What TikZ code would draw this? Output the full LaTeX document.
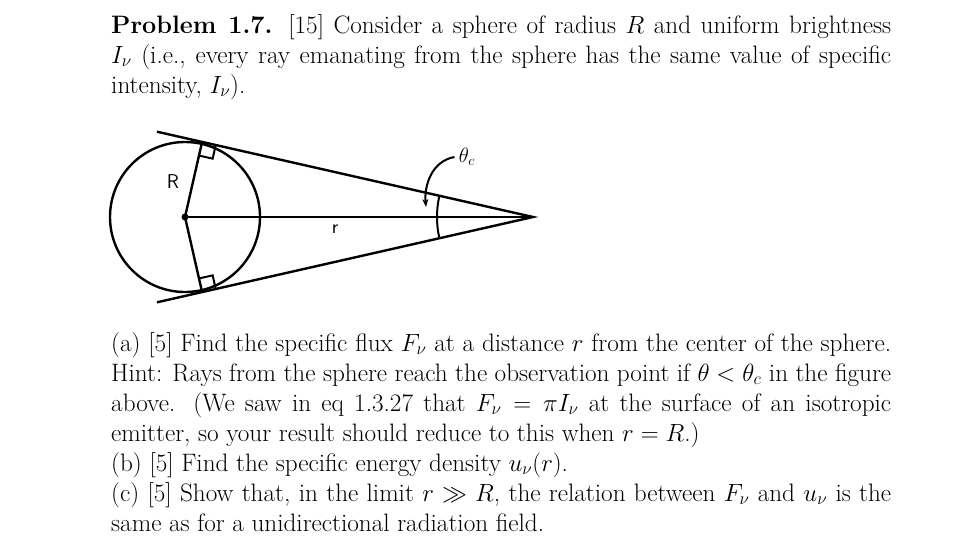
\documentclass[tikz,border=0pt]{standalone}
\usetikzlibrary{calc,arrows.meta}
\begin{document}
\begin{tikzpicture}[x=1pt,y=-1pt,line width=2.4pt,
  txt/.style={anchor=north west,inner sep=0pt,text width=780pt,align=justify,font=\fontsize{25.2}{30}\selectfont}]
\useasboundingbox (0,0) rectangle (976,557);
\node[txt] (top) at (110,13) {\textbf{Problem 1.7.} [15] Consider a sphere of radius $R$ and uniform brightness $I_\nu$ (i.e., every ray emanating from the sphere has the same value of specific intensity, $I_\nu$).};
\node[txt] (bot) at (110,331) {(a) [5] Find the specific flux $F_\nu$ at a distance $r$ from the center of the sphere. Hint: Rays from the sphere reach the observation point if $\theta<\theta_c$ in the figure above. (We saw in eq 1.3.27 that $F_\nu=\pi I_\nu$ at the surface of an isotropic emitter, so your result should reduce to this when $r=R$.)\\
(b) [5] Find the specific energy density $u_\nu(r)$.\\
(c) [5] Show that, in the limit $r\gg R$, the relation between $F_\nu$ and $u_\nu$ is the same as for a unidirectional radiation field.};
\coordinate (C) at (185,217);
\coordinate (A) at (533,217);
\coordinate (T1) at (202.1,141.9);
\coordinate (T2) at (202.1,292.1);
\coordinate (L1) at (157,131.7);
\coordinate (L2) at (157,302.3);
\draw (C) circle[radius=75pt];
\fill (C) circle[radius=3.5pt];
\draw (L1) -- (A) -- (L2);
\draw (C) -- (A);
\draw (C) -- (T1);
\draw (C) -- (T2);
\foreach \t in {T1,T2}{
  \coordinate (p) at ($(\t)!14pt!(C)$);
  \coordinate (q) at ($(\t)!14pt!(A)$);
  \draw[line width=2pt] (p) -- ($(p)+(q)-(\t)$) -- (q);
}
\draw[line width=2pt] ($(A)+(192:96)$) arc[start angle=192,end angle=168,radius=96];
\node[font=\sffamily\fontsize{20}{20}\selectfont] (R) at (173,182) {R};
\node[font=\sffamily\fontsize{20}{20}\selectfont] (r) at (335,229) {r};
\node[font=\fontsize{20}{20}\selectfont] (th) at (467,157) {$\theta_c$};
\draw[line width=2pt,-{Stealth[length=8pt]}] (th.west) to[out=190,in=95] (426,207);
\end{tikzpicture}
\end{document}
